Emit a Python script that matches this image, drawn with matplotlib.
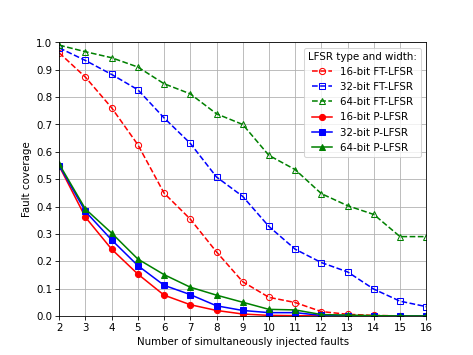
import matplotlib
matplotlib.use("Agg")
import matplotlib.pyplot as plt
import numpy as np

faults = list(range(2, 17))

ft16 = [0.962, 0.873, 0.761, 0.626, 0.449, 0.354, 0.234, 0.125, 0.068, 0.049, 0.016, 0.006, 0.002, 0.0, 0.0]
ft32 = [0.98, 0.934, 0.883, 0.827, 0.724, 0.631, 0.508, 0.437, 0.327, 0.244, 0.195, 0.161, 0.098, 0.054, 0.034]
ft64 = [0.99, 0.966, 0.944, 0.91, 0.849, 0.812, 0.739, 0.70, 0.587, 0.535, 0.447, 0.403, 0.371, 0.29, 0.29]
p16 = [0.548, 0.361, 0.244, 0.153, 0.076, 0.041, 0.02, 0.007, 0.002, 0.001, 0.0, 0.0, 0.0, 0.0, 0.0]
p32 = [0.55, 0.382, 0.278, 0.184, 0.112, 0.078, 0.037, 0.02, 0.012, 0.012, 0.002, 0.001, 0.0, 0.0, 0.0]
p64 = [0.555, 0.391, 0.303, 0.208, 0.151, 0.105, 0.076, 0.05, 0.024, 0.022, 0.005, 0.003, 0.001, 0.0, 0.0]

fig, ax = plt.subplots(figsize=(6.4, 4.8), dpi=74)

ax.plot(faults, ft16, "r--o", fillstyle="none", label="16-bit FT-LFSR")
ax.plot(faults, ft32, "b--s", fillstyle="none", label="32-bit FT-LFSR")
ax.plot(faults, ft64, "g--^", fillstyle="none", label="64-bit FT-LFSR")
ax.plot(faults, p16, "r-o", label="16-bit P-LFSR")
ax.plot(faults, p32, "b-s", label="32-bit P-LFSR")
ax.plot(faults, p64, "g-^", label="64-bit P-LFSR")

ax.set_xlim(2, 16)
ax.set_ylim(0, 1)
ax.set_xticks(faults)
ax.set_yticks(np.arange(0, 1.01, 0.1))
ax.grid(True)
ax.set_xlabel("Number of simultaneously injected faults")
ax.set_ylabel("Fault coverage")
ax.legend(title="LFSR type and width:", loc="upper right")

fig.savefig("out.png", dpi=74)
